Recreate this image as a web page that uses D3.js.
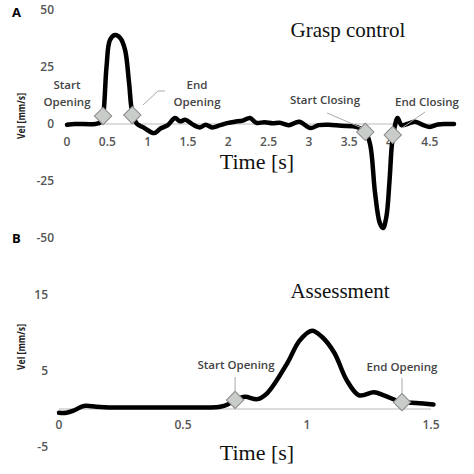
<!DOCTYPE html>
<html>
<head>
<meta charset="utf-8">
<script src="https://cdn.jsdelivr.net/npm/d3@7"></script>
<style>
  body { margin: 0; background: #fff; }
  .tick-label { font-family: "Open Sans", sans-serif; font-weight: 600; font-size: 12px; fill: #555; }
  .note { font-family: "Open Sans", sans-serif; font-weight: 600; font-size: 11.5px; fill: #444; }
  .title { font-family: "Liberation Serif", serif; font-size: 21px; fill: #111; }
  .xlab { font-family: "Liberation Serif", serif; font-size: 22px; fill: #111; }
  .ylab { font-family: "Open Sans", sans-serif; font-weight: 700; font-size: 11px; fill: #222; }
</style>
</head>
<body>
<script>

	// Panel A - grasp control
	var timeA = [0, 0.1, 0.35, 0.42, 0.447, 0.49, 0.533, 0.596, 0.66, 0.72, 0.77, 0.81, 0.87, 0.95, 1.08, 1.16, 1.25, 1.34, 1.4, 1.47, 1.55, 1.65, 1.72, 1.8, 1.9, 2.0, 2.08, 2.18, 2.27, 2.35, 2.45, 2.55, 2.64, 2.75, 2.88, 3.02, 3.12, 3.25, 3.4, 3.55, 3.64, 3.70, 3.76, 3.82, 3.88, 3.92, 3.96, 4.0, 4.03, 4.06, 4.1, 4.15, 4.22, 4.32, 4.42, 4.5, 4.6, 4.7, 4.8];
	var velA  = [-0.3, 0, 0, 0.8, 3.5, 25, 36.8, 39, 37.7, 32.5, 18, 5, 0, -1.5, -4, -2, -0.5, 2.6, 1.2, 1.8, 0, -1.5, -0.3, -1.5, -0.5, 0.5, 1, 1.5, 2.6, 0.5, 0.8, 0.3, 0.5, -0.5, 1, -1.8, -0.5, -0.3, -0.8, -1, -2, -3.5, -9, -30, -43.5, -45.6, -41, -25, -9, -2, 2.6, -0.5, 0, 1, -0.5, -1.3, -0.2, 0, 0];
	var ticksXA = [0, 0.5, 1, 1.5, 2, 2.5, 3, 3.5, 4, 4.5];
	var ticksYA = [50, 25, 0, -25, -50];
	var markA = [
		{ t: 0.447, v: 3.5, label: ["Start", "Opening"] },
		{ t: 0.81, v: 3.9, label: ["End", "Opening"] },
		{ t: 3.70, v: -3.5, label: ["Start Closing"] },
		{ t: 4.04, v: -4.8, label: ["End Closing"] }
	];

	// Panel B - assessment
	var timeB = [0, 0.03, 0.06, 0.1, 0.15, 0.2, 0.3, 0.5, 0.6, 0.65, 0.68, 0.71, 0.75, 0.8, 0.84, 0.92, 0.97, 1.02, 1.06, 1.11, 1.16, 1.21, 1.27, 1.31, 1.383, 1.44, 1.51];
	var velB  = [-0.5, -0.5, -0.2, 0.4, 0.3, 0.2, 0.2, 0.2, 0.2, 0.3, 0.6, 1.2, 1.6, 1.3, 2.1, 6.0, 9, 10.3, 9.5, 7.4, 3.8, 1.8, 2.2, 1.8, 0.9, 0.8, 0.6];
	var ticksXB = [0, 0.5, 1, 1.5];
	var ticksYB = [15, 5, -5];
	var markB = [
		{ t: 0.71, v: 1.2, label: ["Start Opening"] },
		{ t: 1.383, v: 0.9, label: ["End Opening"] }
	];

	var svg = d3.select("body").append("svg")
	    .attr("width", 474)
	    .attr("height", 474);

	// scales (pixel ranges)
	var xA = d3.scaleLinear().domain([0, 4.8]).range([67, 454]);
	var yA = d3.scaleLinear().domain([-50, 50]).range([238, 10]);
	var xB = d3.scaleLinear().domain([0, 1.5]).range([59, 431]);
	var yB = d3.scaleLinear().domain([-5, 15]).range([447, 295]);

	function drawPanel(g, x, y, ticksX, ticksY, t, v, tickXY, yLabRight) {
		// baseline
		g.append("line")
		    .attr("x1", x.range()[0]).attr("x2", x.range()[1])
		    .attr("y1", y(0)).attr("y2", y(0))
		    .attr("stroke", "#d0d0d0").attr("stroke-width", 1.5);

		g.selectAll(".xt").data(ticksX).enter().append("text")
		    .attr("class", "tick-label")
		    .attr("x", function(d){ return x(d); })
		    .attr("y", tickXY)
		    .attr("text-anchor", "middle")
		    .text(function(d){ return d; });

		g.selectAll(".yt").data(ticksY).enter().append("text")
		    .attr("class", "tick-label")
		    .attr("x", yLabRight)
		    .attr("y", function(d){ return y(d) + 4; })
		    .attr("text-anchor", "end")
		    .text(function(d){ return d; });

		var line = d3.line()
		    .x(function(d){ return x(d[0]); })
		    .y(function(d){ return y(d[1]); })
		    .curve(d3.curveCatmullRom.alpha(0.5));

		g.append("path")
		    .datum(d3.zip(t, v))
		    .attr("d", line)
		    .attr("fill", "none")
		    .attr("stroke", "#000")
		    .attr("stroke-width", 4.5)
		    .attr("stroke-linejoin", "round")
		    .attr("stroke-linecap", "round");
	}

	var gA = svg.append("g");
	drawPanel(gA, xA, yA, ticksXA, ticksYA, timeA, velA, 146, 54);
	var gB = svg.append("g");
	drawPanel(gB, xB, yB, ticksXB, ticksYB, timeB, velB, 429, 48);

	// leader lines (drawn before markers)
	var leaders = [
		[[143, 105], [158, 91], [165, 91]],
		[[327, 113], [362, 128]],
		[[425, 112], [402, 128]],
		[[xB(0.71), 377], [xB(0.71), 392]],
		[[xB(1.383), 378], [xB(1.383), 394]]
	];
	svg.selectAll(".leader").data(leaders).enter().append("path")
	    .attr("d", d3.line())
	    .attr("fill", "none")
	    .attr("stroke", "#aaa")
	    .attr("stroke-width", 1);

	function diamonds(g, data, x, y) {
		g.selectAll(".mk").data(data).enter().append("path")
		    .attr("d", d3.symbol().type(d3.symbolSquare).size(150))
		    .attr("transform", function(d){ return "translate(" + x(d.t) + "," + y(d.v) + ") rotate(45)"; })
		    .attr("fill", "#c9cdc9")
		    .attr("stroke", "#888")
		    .attr("stroke-width", 1);
	}
	diamonds(gA, markA, xA, yA);
	diamonds(gB, markB, xB, yB);

	// annotation texts
	var notes = [
		{ x: 67, y: 89, lines: ["Start", "Opening"] },
		{ x: 197, y: 89, lines: ["End", "Opening"] },
		{ x: 325, y: 104, lines: ["Start Closing"] },
		{ x: 427, y: 106, lines: ["End Closing"] },
		{ x: 236, y: 369, lines: ["Start Opening"] },
		{ x: 402, y: 371, lines: ["End Opening"] }
	];
	notes.forEach(function(n){
		n.lines.forEach(function(s, i){
			svg.append("text")
			    .attr("class", "note")
			    .attr("x", n.x)
			    .attr("y", n.y + i * 17)
			    .attr("text-anchor", "middle")
			    .text(s);
		});
	});

	// titles and axis titles
	svg.append("text").attr("class", "title").attr("x", 348).attr("y", 37).attr("text-anchor", "middle").text("Grasp control");
	svg.append("text").attr("class", "title").attr("x", 340).attr("y", 298).attr("text-anchor", "middle").text("Assessment");
	svg.append("text").attr("class", "xlab").attr("x", 257).attr("y", 169).attr("text-anchor", "middle").text("Time [s]");
	svg.append("text").attr("class", "xlab").attr("x", 257).attr("y", 460).attr("text-anchor", "middle").text("Time [s]");

	[116, 347].forEach(function(cy){
		svg.append("text")
		    .attr("class", "ylab")
		    .attr("transform", "translate(25," + cy + ") rotate(-90)")
		    .attr("text-anchor", "middle")
		    .attr("textLength", 46)
		    .attr("lengthAdjust", "spacingAndGlyphs")
		    .text("Vel [mm/s]");
	});

	svg.append("text").attr("x", 12).attr("y", 17)
	    .style("font-family", "Open Sans, sans-serif").style("font-weight", 700).style("font-size", "13px")
	    .text("A");
	svg.append("text").attr("x", 12).attr("y", 243)
	    .style("font-family", "Open Sans, sans-serif").style("font-weight", 700).style("font-size", "13px")
	    .text("B");

</script>
</body>
</html>
